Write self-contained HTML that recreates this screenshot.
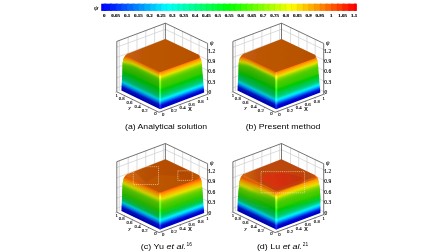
<!DOCTYPE html><html><head><meta charset="utf-8"><title>figure</title><style>html,body{margin:0;padding:0;background:#fff;overflow:hidden}svg{display:block}</style></head><body><svg width="448" height="252" viewBox="0 0 448 252">
<defs>
<linearGradient id="gl" gradientUnits="userSpaceOnUse" x1="160.1" y1="72" x2="145.63" y2="102.28"><stop offset="0.000" stop-color="#e85400"/><stop offset="0.025" stop-color="#e77000"/><stop offset="0.050" stop-color="#e48a00"/><stop offset="0.075" stop-color="#dea200"/><stop offset="0.100" stop-color="#d8b800"/><stop offset="0.125" stop-color="#d1cc00"/><stop offset="0.150" stop-color="#a9ca00"/><stop offset="0.175" stop-color="#7dc300"/><stop offset="0.200" stop-color="#53be00"/><stop offset="0.225" stop-color="#4bba00"/><stop offset="0.250" stop-color="#44b600"/><stop offset="0.275" stop-color="#3db400"/><stop offset="0.300" stop-color="#37b200"/><stop offset="0.325" stop-color="#31b100"/><stop offset="0.350" stop-color="#2bb100"/><stop offset="0.375" stop-color="#26b000"/><stop offset="0.400" stop-color="#20b000"/><stop offset="0.425" stop-color="#14b000"/><stop offset="0.450" stop-color="#07b000"/><stop offset="0.475" stop-color="#00b005"/><stop offset="0.500" stop-color="#00b011"/><stop offset="0.525" stop-color="#00b01e"/><stop offset="0.550" stop-color="#00b02b"/><stop offset="0.575" stop-color="#00b038"/><stop offset="0.600" stop-color="#00b046"/><stop offset="0.625" stop-color="#00b053"/><stop offset="0.650" stop-color="#00b163"/><stop offset="0.675" stop-color="#00b474"/><stop offset="0.700" stop-color="#00ba88"/><stop offset="0.725" stop-color="#00c4ab"/><stop offset="0.750" stop-color="#00c6d1"/><stop offset="0.775" stop-color="#00aadd"/><stop offset="0.800" stop-color="#008fe1"/><stop offset="0.825" stop-color="#006edd"/><stop offset="0.850" stop-color="#004cd1"/><stop offset="0.875" stop-color="#0024c4"/><stop offset="0.900" stop-color="#000cba"/><stop offset="0.925" stop-color="#0009b4"/><stop offset="0.950" stop-color="#0006b1"/><stop offset="0.975" stop-color="#0003b0"/><stop offset="1.000" stop-color="#0000b0"/></linearGradient>
<linearGradient id="gr" gradientUnits="userSpaceOnUse" x1="160.1" y1="71.5" x2="172.1" y2="104.87"><stop offset="0.000" stop-color="#ff6100"/><stop offset="0.025" stop-color="#ff7b00"/><stop offset="0.050" stop-color="#ff9300"/><stop offset="0.075" stop-color="#ffa900"/><stop offset="0.100" stop-color="#f7bd00"/><stop offset="0.125" stop-color="#efcf00"/><stop offset="0.150" stop-color="#e7e000"/><stop offset="0.175" stop-color="#c8e000"/><stop offset="0.200" stop-color="#a1da00"/><stop offset="0.225" stop-color="#80d500"/><stop offset="0.250" stop-color="#6ed100"/><stop offset="0.275" stop-color="#5cce00"/><stop offset="0.300" stop-color="#50cc00"/><stop offset="0.325" stop-color="#4acb00"/><stop offset="0.350" stop-color="#45ca00"/><stop offset="0.375" stop-color="#40ca00"/><stop offset="0.400" stop-color="#3bca00"/><stop offset="0.425" stop-color="#36ca00"/><stop offset="0.450" stop-color="#2bca00"/><stop offset="0.475" stop-color="#17c900"/><stop offset="0.500" stop-color="#02c900"/><stop offset="0.525" stop-color="#00c912"/><stop offset="0.550" stop-color="#00c923"/><stop offset="0.575" stop-color="#00c934"/><stop offset="0.600" stop-color="#00ca45"/><stop offset="0.625" stop-color="#00ca55"/><stop offset="0.650" stop-color="#00cb68"/><stop offset="0.675" stop-color="#00ce7e"/><stop offset="0.700" stop-color="#00d596"/><stop offset="0.725" stop-color="#00e1b9"/><stop offset="0.750" stop-color="#00f0e8"/><stop offset="0.775" stop-color="#00e0fd"/><stop offset="0.800" stop-color="#00beff"/><stop offset="0.825" stop-color="#0092fd"/><stop offset="0.850" stop-color="#0064f0"/><stop offset="0.875" stop-color="#003ae1"/><stop offset="0.900" stop-color="#0015d5"/><stop offset="0.925" stop-color="#0006ce"/><stop offset="0.950" stop-color="#0004cb"/><stop offset="0.975" stop-color="#0002ca"/><stop offset="1.000" stop-color="#0000ca"/></linearGradient>
<linearGradient id="ge" gradientUnits="userSpaceOnUse" x1="160.1" y1="72" x2="160.1" y2="109.2"><stop offset="0.000" stop-color="#ff7c1f"/><stop offset="0.025" stop-color="#ff981f"/><stop offset="0.050" stop-color="#ffb41f"/><stop offset="0.075" stop-color="#ffd01f"/><stop offset="0.100" stop-color="#ffec1f"/><stop offset="0.125" stop-color="#ffff1f"/><stop offset="0.150" stop-color="#ffff1f"/><stop offset="0.175" stop-color="#ecff1f"/><stop offset="0.200" stop-color="#c3ff1f"/><stop offset="0.225" stop-color="#a4ff1f"/><stop offset="0.250" stop-color="#94ff1f"/><stop offset="0.275" stop-color="#85ff1f"/><stop offset="0.300" stop-color="#79ff1f"/><stop offset="0.325" stop-color="#72ff1f"/><stop offset="0.350" stop-color="#6bff1f"/><stop offset="0.375" stop-color="#63ff1f"/><stop offset="0.400" stop-color="#5cff1f"/><stop offset="0.425" stop-color="#52ff1f"/><stop offset="0.450" stop-color="#3dff1f"/><stop offset="0.475" stop-color="#28ff1f"/><stop offset="0.500" stop-color="#1fff2b"/><stop offset="0.525" stop-color="#1fff40"/><stop offset="0.550" stop-color="#1fff55"/><stop offset="0.575" stop-color="#1fff6a"/><stop offset="0.600" stop-color="#1fff7f"/><stop offset="0.625" stop-color="#1fff93"/><stop offset="0.650" stop-color="#1fffaa"/><stop offset="0.675" stop-color="#1fffc1"/><stop offset="0.700" stop-color="#1fffd8"/><stop offset="0.725" stop-color="#1ffffa"/><stop offset="0.750" stop-color="#1fffff"/><stop offset="0.775" stop-color="#1ff3ff"/><stop offset="0.800" stop-color="#1fcdff"/><stop offset="0.825" stop-color="#1fa7ff"/><stop offset="0.850" stop-color="#1f82ff"/><stop offset="0.875" stop-color="#1f58ff"/><stop offset="0.900" stop-color="#1f2dff"/><stop offset="0.925" stop-color="#1f29ff"/><stop offset="0.950" stop-color="#1f26ff"/><stop offset="0.975" stop-color="#1f22ff"/><stop offset="1.000" stop-color="#1f1fff"/></linearGradient>
<linearGradient id="gt" gradientUnits="userSpaceOnUse" x1="123" y1="56" x2="203" y2="56"><stop offset="0" stop-color="#c86010"/><stop offset="0.25" stop-color="#bc5605"/><stop offset="1" stop-color="#b65002"/></linearGradient>
<linearGradient id="gtc" gradientUnits="userSpaceOnUse" x1="123" y1="56" x2="203" y2="56"><stop offset="0" stop-color="#dc7618"/><stop offset="0.12" stop-color="#cc620e"/><stop offset="0.3" stop-color="#be5606"/><stop offset="0.85" stop-color="#b85003"/><stop offset="1" stop-color="#c65c0a"/></linearGradient>
<linearGradient id="gtd" gradientUnits="userSpaceOnUse" x1="123" y1="56" x2="203" y2="56"><stop offset="0" stop-color="#dc7618"/><stop offset="0.1" stop-color="#cc5e0c"/><stop offset="0.25" stop-color="#be4807"/><stop offset="0.85" stop-color="#ba4607"/><stop offset="1" stop-color="#c85a0b"/></linearGradient>
<linearGradient id="gin" gradientUnits="userSpaceOnUse" x1="150" y1="64" x2="184" y2="52"><stop offset="0" stop-color="#da320a"/><stop offset="0.5" stop-color="#d22e08"/><stop offset="1" stop-color="#bc3606"/></linearGradient>
<linearGradient id="gcl" gradientUnits="userSpaceOnUse" x1="122" y1="60" x2="146" y2="60"><stop offset="0" stop-color="#d85c10"/><stop offset="0.25" stop-color="#d85c10" stop-opacity="0.9"/><stop offset="1" stop-color="#d85c10" stop-opacity="0"/></linearGradient>
<linearGradient id="gcls" gradientUnits="userSpaceOnUse" x1="122" y1="60" x2="137" y2="60"><stop offset="0" stop-color="#d85c10"/><stop offset="0.3" stop-color="#d85c10" stop-opacity="0.8"/><stop offset="1" stop-color="#d85c10" stop-opacity="0"/></linearGradient>
<linearGradient id="gcr" gradientUnits="userSpaceOnUse" x1="203" y1="60" x2="182" y2="60"><stop offset="0" stop-color="#e0640c"/><stop offset="0.25" stop-color="#e0640c" stop-opacity="0.9"/><stop offset="1" stop-color="#e0640c" stop-opacity="0"/></linearGradient>
<linearGradient id="gld" gradientUnits="userSpaceOnUse" x1="133.3" y1="60.2" x2="124.33" y2="82.61"><stop offset="0.000" stop-color="#e85400" stop-opacity="1.00"/><stop offset="0.038" stop-color="#e86700" stop-opacity="1.00"/><stop offset="0.077" stop-color="#e67900" stop-opacity="1.00"/><stop offset="0.115" stop-color="#e48a00" stop-opacity="1.00"/><stop offset="0.154" stop-color="#e09a00" stop-opacity="1.00"/><stop offset="0.192" stop-color="#dcaa00" stop-opacity="1.00"/><stop offset="0.231" stop-color="#d8b800" stop-opacity="1.00"/><stop offset="0.269" stop-color="#d3c500" stop-opacity="1.00"/><stop offset="0.308" stop-color="#cacf00" stop-opacity="1.00"/><stop offset="0.346" stop-color="#abca00" stop-opacity="1.00"/><stop offset="0.385" stop-color="#8dc600" stop-opacity="1.00"/><stop offset="0.423" stop-color="#70c200" stop-opacity="1.00"/><stop offset="0.462" stop-color="#55be00" stop-opacity="1.00"/><stop offset="0.500" stop-color="#4ebb00" stop-opacity="1.00"/><stop offset="0.538" stop-color="#49b900" stop-opacity="1.00"/><stop offset="0.577" stop-color="#44b700" stop-opacity="0.94"/><stop offset="0.615" stop-color="#40b500" stop-opacity="0.85"/><stop offset="0.654" stop-color="#3cb400" stop-opacity="0.77"/><stop offset="0.692" stop-color="#38b300" stop-opacity="0.68"/><stop offset="0.731" stop-color="#34b200" stop-opacity="0.60"/><stop offset="0.769" stop-color="#30b100" stop-opacity="0.51"/><stop offset="0.808" stop-color="#2cb100" stop-opacity="0.43"/><stop offset="0.846" stop-color="#28b100" stop-opacity="0.34"/><stop offset="0.885" stop-color="#24b000" stop-opacity="0.26"/><stop offset="0.923" stop-color="#20b000" stop-opacity="0.17"/><stop offset="0.962" stop-color="#19b000" stop-opacity="0.09"/><stop offset="1.000" stop-color="#11b000" stop-opacity="0.00"/></linearGradient>
<linearGradient id="grd" gradientUnits="userSpaceOnUse" x1="194.7" y1="58.6" x2="201.85" y2="82.45"><stop offset="0.000" stop-color="#ff6100" stop-opacity="1.00"/><stop offset="0.038" stop-color="#ff7700" stop-opacity="1.00"/><stop offset="0.077" stop-color="#ff8c00" stop-opacity="1.00"/><stop offset="0.115" stop-color="#ff9f00" stop-opacity="1.00"/><stop offset="0.154" stop-color="#fcb100" stop-opacity="1.00"/><stop offset="0.192" stop-color="#f5c100" stop-opacity="1.00"/><stop offset="0.231" stop-color="#eed000" stop-opacity="1.00"/><stop offset="0.269" stop-color="#e8de00" stop-opacity="1.00"/><stop offset="0.308" stop-color="#d2e100" stop-opacity="1.00"/><stop offset="0.346" stop-color="#b1dc00" stop-opacity="1.00"/><stop offset="0.385" stop-color="#91d700" stop-opacity="1.00"/><stop offset="0.423" stop-color="#7bd300" stop-opacity="1.00"/><stop offset="0.462" stop-color="#6bd000" stop-opacity="1.00"/><stop offset="0.500" stop-color="#5cce00" stop-opacity="1.00"/><stop offset="0.538" stop-color="#51cd00" stop-opacity="1.00"/><stop offset="0.577" stop-color="#4ccb00" stop-opacity="0.94"/><stop offset="0.615" stop-color="#48cb00" stop-opacity="0.85"/><stop offset="0.654" stop-color="#43ca00" stop-opacity="0.77"/><stop offset="0.692" stop-color="#3fca00" stop-opacity="0.68"/><stop offset="0.731" stop-color="#3bca00" stop-opacity="0.60"/><stop offset="0.769" stop-color="#37ca00" stop-opacity="0.51"/><stop offset="0.808" stop-color="#31ca00" stop-opacity="0.43"/><stop offset="0.846" stop-color="#1fc900" stop-opacity="0.34"/><stop offset="0.885" stop-color="#0ec900" stop-opacity="0.26"/><stop offset="0.923" stop-color="#00c903" stop-opacity="0.17"/><stop offset="0.962" stop-color="#00c914" stop-opacity="0.09"/><stop offset="1.000" stop-color="#00c923" stop-opacity="0.00"/></linearGradient>
<linearGradient id="glc" gradientUnits="userSpaceOnUse" x1="147.9" y1="66.6" x2="137.58" y2="90.06"><stop offset="0.000" stop-color="#e85400" stop-opacity="1.00"/><stop offset="0.038" stop-color="#e86a00" stop-opacity="1.00"/><stop offset="0.077" stop-color="#e57f00" stop-opacity="1.00"/><stop offset="0.115" stop-color="#e29300" stop-opacity="1.00"/><stop offset="0.154" stop-color="#dea500" stop-opacity="1.00"/><stop offset="0.192" stop-color="#d9b600" stop-opacity="1.00"/><stop offset="0.231" stop-color="#d3c500" stop-opacity="1.00"/><stop offset="0.269" stop-color="#c4ce00" stop-opacity="1.00"/><stop offset="0.308" stop-color="#a0c800" stop-opacity="1.00"/><stop offset="0.346" stop-color="#7dc400" stop-opacity="1.00"/><stop offset="0.385" stop-color="#5dbf00" stop-opacity="1.00"/><stop offset="0.423" stop-color="#4fbc00" stop-opacity="1.00"/><stop offset="0.462" stop-color="#49b900" stop-opacity="1.00"/><stop offset="0.500" stop-color="#43b600" stop-opacity="1.00"/><stop offset="0.538" stop-color="#3eb400" stop-opacity="1.00"/><stop offset="0.577" stop-color="#39b300" stop-opacity="0.94"/><stop offset="0.615" stop-color="#35b200" stop-opacity="0.85"/><stop offset="0.654" stop-color="#30b100" stop-opacity="0.77"/><stop offset="0.692" stop-color="#2cb100" stop-opacity="0.68"/><stop offset="0.731" stop-color="#27b000" stop-opacity="0.60"/><stop offset="0.769" stop-color="#23b000" stop-opacity="0.51"/><stop offset="0.808" stop-color="#1cb000" stop-opacity="0.43"/><stop offset="0.846" stop-color="#13b000" stop-opacity="0.34"/><stop offset="0.885" stop-color="#09b000" stop-opacity="0.26"/><stop offset="0.923" stop-color="#00b000" stop-opacity="0.17"/><stop offset="0.962" stop-color="#00b00a" stop-opacity="0.09"/><stop offset="1.000" stop-color="#00b013" stop-opacity="0.00"/></linearGradient>
<linearGradient id="grc" gradientUnits="userSpaceOnUse" x1="182.9" y1="64.5" x2="190.64" y2="87.95"><stop offset="0.000" stop-color="#ff6100" stop-opacity="1.00"/><stop offset="0.038" stop-color="#ff7700" stop-opacity="1.00"/><stop offset="0.077" stop-color="#ff8d00" stop-opacity="1.00"/><stop offset="0.115" stop-color="#ffa100" stop-opacity="1.00"/><stop offset="0.154" stop-color="#fbb300" stop-opacity="1.00"/><stop offset="0.192" stop-color="#f4c300" stop-opacity="1.00"/><stop offset="0.231" stop-color="#edd200" stop-opacity="1.00"/><stop offset="0.269" stop-color="#e7e000" stop-opacity="1.00"/><stop offset="0.308" stop-color="#cce000" stop-opacity="1.00"/><stop offset="0.346" stop-color="#aadb00" stop-opacity="1.00"/><stop offset="0.385" stop-color="#89d600" stop-opacity="1.00"/><stop offset="0.423" stop-color="#76d300" stop-opacity="1.00"/><stop offset="0.462" stop-color="#67d000" stop-opacity="1.00"/><stop offset="0.500" stop-color="#58ce00" stop-opacity="1.00"/><stop offset="0.538" stop-color="#4fcc00" stop-opacity="1.00"/><stop offset="0.577" stop-color="#4acb00" stop-opacity="0.94"/><stop offset="0.615" stop-color="#46ca00" stop-opacity="0.85"/><stop offset="0.654" stop-color="#42ca00" stop-opacity="0.77"/><stop offset="0.692" stop-color="#3dca00" stop-opacity="0.68"/><stop offset="0.731" stop-color="#39ca00" stop-opacity="0.60"/><stop offset="0.769" stop-color="#35ca00" stop-opacity="0.51"/><stop offset="0.808" stop-color="#28ca00" stop-opacity="0.43"/><stop offset="0.846" stop-color="#16c900" stop-opacity="0.34"/><stop offset="0.885" stop-color="#05c900" stop-opacity="0.26"/><stop offset="0.923" stop-color="#00c90d" stop-opacity="0.17"/><stop offset="0.962" stop-color="#00c91d" stop-opacity="0.09"/><stop offset="1.000" stop-color="#00c92b" stop-opacity="0.00"/></linearGradient>
<linearGradient id="gla" gradientUnits="userSpaceOnUse" x1="122.7" y1="55.6" x2="117.2" y2="73.95"><stop offset="0.000" stop-color="#e85400" stop-opacity="1.00"/><stop offset="0.038" stop-color="#e86800" stop-opacity="1.00"/><stop offset="0.077" stop-color="#e67b00" stop-opacity="1.00"/><stop offset="0.115" stop-color="#e38c00" stop-opacity="1.00"/><stop offset="0.154" stop-color="#e09d00" stop-opacity="1.00"/><stop offset="0.192" stop-color="#dbad00" stop-opacity="1.00"/><stop offset="0.231" stop-color="#d7bb00" stop-opacity="1.00"/><stop offset="0.269" stop-color="#d2c900" stop-opacity="1.00"/><stop offset="0.308" stop-color="#bfcd00" stop-opacity="1.00"/><stop offset="0.346" stop-color="#9ec800" stop-opacity="1.00"/><stop offset="0.385" stop-color="#80c400" stop-opacity="1.00"/><stop offset="0.423" stop-color="#62c000" stop-opacity="1.00"/><stop offset="0.462" stop-color="#50bd00" stop-opacity="1.00"/><stop offset="0.500" stop-color="#4bba00" stop-opacity="1.00"/><stop offset="0.538" stop-color="#46b700" stop-opacity="1.00"/><stop offset="0.577" stop-color="#41b500" stop-opacity="0.94"/><stop offset="0.615" stop-color="#3db400" stop-opacity="0.85"/><stop offset="0.654" stop-color="#38b300" stop-opacity="0.77"/><stop offset="0.692" stop-color="#34b200" stop-opacity="0.68"/><stop offset="0.731" stop-color="#30b100" stop-opacity="0.60"/><stop offset="0.769" stop-color="#2cb100" stop-opacity="0.51"/><stop offset="0.808" stop-color="#28b100" stop-opacity="0.43"/><stop offset="0.846" stop-color="#24b000" stop-opacity="0.34"/><stop offset="0.885" stop-color="#20b000" stop-opacity="0.26"/><stop offset="0.923" stop-color="#18b000" stop-opacity="0.17"/><stop offset="0.962" stop-color="#10b000" stop-opacity="0.09"/><stop offset="1.000" stop-color="#07b000" stop-opacity="0.00"/></linearGradient>
<linearGradient id="mga" gradientUnits="userSpaceOnUse" x1="124.5" y1="0" x2="138" y2="0"><stop offset="0" stop-color="#fff"/><stop offset="1" stop-color="#000"/></linearGradient>
<mask id="mka" maskUnits="userSpaceOnUse" x="100" y="30" width="130" height="100"><rect x="100" y="30" width="130" height="100" fill="url(#mga)"/></mask>
<linearGradient id="mgl" gradientUnits="userSpaceOnUse" x1="134" y1="0" x2="158" y2="0"><stop offset="0" stop-color="#fff"/><stop offset="1" stop-color="#000"/></linearGradient>
<linearGradient id="mgr" gradientUnits="userSpaceOnUse" x1="192" y1="0" x2="163" y2="0"><stop offset="0" stop-color="#fff"/><stop offset="1" stop-color="#000"/></linearGradient>
<mask id="mkl" maskUnits="userSpaceOnUse" x="100" y="30" width="130" height="100"><rect x="100" y="30" width="130" height="100" fill="url(#mgl)"/></mask>
<mask id="mkr" maskUnits="userSpaceOnUse" x="100" y="30" width="130" height="100"><rect x="100" y="30" width="130" height="100" fill="url(#mgr)"/></mask>
<filter id="b" x="-5%" y="-5%" width="110%" height="110%"><feGaussianBlur stdDeviation="0.35"/></filter>
</defs>
<rect width="448" height="252" fill="#fff"/>
<g filter="url(#b)">
<rect x="101.20" y="3.7" width="5.10" height="7.2" fill="#0000ff"/>
<rect x="104.30" y="3.7" width="7.67" height="7.2" fill="#000cff"/>
<rect x="109.97" y="3.7" width="7.67" height="7.2" fill="#0023ff"/>
<rect x="115.65" y="3.7" width="7.67" height="7.2" fill="#003aff"/>
<rect x="121.32" y="3.7" width="7.68" height="7.2" fill="#0051ff"/>
<rect x="127.00" y="3.7" width="7.68" height="7.2" fill="#0068ff"/>
<rect x="132.68" y="3.7" width="7.67" height="7.2" fill="#0080ff"/>
<rect x="138.35" y="3.7" width="7.68" height="7.2" fill="#0097ff"/>
<rect x="144.03" y="3.7" width="7.67" height="7.2" fill="#00aeff"/>
<rect x="149.70" y="3.7" width="7.68" height="7.2" fill="#00c5ff"/>
<rect x="155.38" y="3.7" width="7.68" height="7.2" fill="#00dcff"/>
<rect x="161.05" y="3.7" width="7.67" height="7.2" fill="#00f3ff"/>
<rect x="166.72" y="3.7" width="7.67" height="7.2" fill="#00fff3"/>
<rect x="172.40" y="3.7" width="7.68" height="7.2" fill="#00ffdc"/>
<rect x="178.07" y="3.7" width="7.68" height="7.2" fill="#00ffc5"/>
<rect x="183.75" y="3.7" width="7.68" height="7.2" fill="#00ffae"/>
<rect x="189.43" y="3.7" width="7.67" height="7.2" fill="#00ff97"/>
<rect x="195.10" y="3.7" width="7.67" height="7.2" fill="#00ff80"/>
<rect x="200.77" y="3.7" width="7.68" height="7.2" fill="#00ff68"/>
<rect x="206.45" y="3.7" width="7.68" height="7.2" fill="#00ff51"/>
<rect x="212.12" y="3.7" width="7.68" height="7.2" fill="#00ff3a"/>
<rect x="217.80" y="3.7" width="7.67" height="7.2" fill="#00ff23"/>
<rect x="223.47" y="3.7" width="7.67" height="7.2" fill="#00ff0c"/>
<rect x="229.15" y="3.7" width="7.68" height="7.2" fill="#0cff00"/>
<rect x="234.82" y="3.7" width="7.68" height="7.2" fill="#23ff00"/>
<rect x="240.50" y="3.7" width="7.68" height="7.2" fill="#3aff00"/>
<rect x="246.18" y="3.7" width="7.67" height="7.2" fill="#51ff00"/>
<rect x="251.85" y="3.7" width="7.68" height="7.2" fill="#68ff00"/>
<rect x="257.52" y="3.7" width="7.68" height="7.2" fill="#80ff00"/>
<rect x="263.20" y="3.7" width="7.68" height="7.2" fill="#97ff00"/>
<rect x="268.88" y="3.7" width="7.68" height="7.2" fill="#aeff00"/>
<rect x="274.55" y="3.7" width="7.67" height="7.2" fill="#c5ff00"/>
<rect x="280.22" y="3.7" width="7.68" height="7.2" fill="#dcff00"/>
<rect x="285.90" y="3.7" width="7.68" height="7.2" fill="#f3ff00"/>
<rect x="291.57" y="3.7" width="7.68" height="7.2" fill="#fff300"/>
<rect x="297.25" y="3.7" width="7.68" height="7.2" fill="#ffdc00"/>
<rect x="302.93" y="3.7" width="7.67" height="7.2" fill="#ffc500"/>
<rect x="308.60" y="3.7" width="7.68" height="7.2" fill="#ffae00"/>
<rect x="314.27" y="3.7" width="7.68" height="7.2" fill="#ff9700"/>
<rect x="319.95" y="3.7" width="7.68" height="7.2" fill="#ff8000"/>
<rect x="325.62" y="3.7" width="7.68" height="7.2" fill="#ff6800"/>
<rect x="331.30" y="3.7" width="7.67" height="7.2" fill="#ff5100"/>
<rect x="336.97" y="3.7" width="7.68" height="7.2" fill="#ff3a00"/>
<rect x="342.65" y="3.7" width="7.68" height="7.2" fill="#ff2300"/>
<rect x="348.32" y="3.7" width="7.68" height="7.2" fill="#ff0c00"/>
<rect x="354.00" y="3.7" width="2.90" height="7.2" fill="#ff0000"/>
<line x1="104.30" y1="3.7" x2="104.30" y2="10.9" stroke="#000" stroke-opacity="0.12" stroke-width="0.4"/>
<line x1="109.97" y1="3.7" x2="109.97" y2="10.9" stroke="#000" stroke-opacity="0.12" stroke-width="0.4"/>
<line x1="115.65" y1="3.7" x2="115.65" y2="10.9" stroke="#000" stroke-opacity="0.12" stroke-width="0.4"/>
<line x1="121.32" y1="3.7" x2="121.32" y2="10.9" stroke="#000" stroke-opacity="0.12" stroke-width="0.4"/>
<line x1="127.00" y1="3.7" x2="127.00" y2="10.9" stroke="#000" stroke-opacity="0.12" stroke-width="0.4"/>
<line x1="132.68" y1="3.7" x2="132.68" y2="10.9" stroke="#000" stroke-opacity="0.12" stroke-width="0.4"/>
<line x1="138.35" y1="3.7" x2="138.35" y2="10.9" stroke="#000" stroke-opacity="0.12" stroke-width="0.4"/>
<line x1="144.03" y1="3.7" x2="144.03" y2="10.9" stroke="#000" stroke-opacity="0.12" stroke-width="0.4"/>
<line x1="149.70" y1="3.7" x2="149.70" y2="10.9" stroke="#000" stroke-opacity="0.12" stroke-width="0.4"/>
<line x1="155.38" y1="3.7" x2="155.38" y2="10.9" stroke="#000" stroke-opacity="0.12" stroke-width="0.4"/>
<line x1="161.05" y1="3.7" x2="161.05" y2="10.9" stroke="#000" stroke-opacity="0.12" stroke-width="0.4"/>
<line x1="166.72" y1="3.7" x2="166.72" y2="10.9" stroke="#000" stroke-opacity="0.12" stroke-width="0.4"/>
<line x1="172.40" y1="3.7" x2="172.40" y2="10.9" stroke="#000" stroke-opacity="0.12" stroke-width="0.4"/>
<line x1="178.07" y1="3.7" x2="178.07" y2="10.9" stroke="#000" stroke-opacity="0.12" stroke-width="0.4"/>
<line x1="183.75" y1="3.7" x2="183.75" y2="10.9" stroke="#000" stroke-opacity="0.12" stroke-width="0.4"/>
<line x1="189.43" y1="3.7" x2="189.43" y2="10.9" stroke="#000" stroke-opacity="0.12" stroke-width="0.4"/>
<line x1="195.10" y1="3.7" x2="195.10" y2="10.9" stroke="#000" stroke-opacity="0.12" stroke-width="0.4"/>
<line x1="200.77" y1="3.7" x2="200.77" y2="10.9" stroke="#000" stroke-opacity="0.12" stroke-width="0.4"/>
<line x1="206.45" y1="3.7" x2="206.45" y2="10.9" stroke="#000" stroke-opacity="0.12" stroke-width="0.4"/>
<line x1="212.12" y1="3.7" x2="212.12" y2="10.9" stroke="#000" stroke-opacity="0.12" stroke-width="0.4"/>
<line x1="217.80" y1="3.7" x2="217.80" y2="10.9" stroke="#000" stroke-opacity="0.12" stroke-width="0.4"/>
<line x1="223.47" y1="3.7" x2="223.47" y2="10.9" stroke="#000" stroke-opacity="0.12" stroke-width="0.4"/>
<line x1="229.15" y1="3.7" x2="229.15" y2="10.9" stroke="#000" stroke-opacity="0.12" stroke-width="0.4"/>
<line x1="234.82" y1="3.7" x2="234.82" y2="10.9" stroke="#000" stroke-opacity="0.12" stroke-width="0.4"/>
<line x1="240.50" y1="3.7" x2="240.50" y2="10.9" stroke="#000" stroke-opacity="0.12" stroke-width="0.4"/>
<line x1="246.18" y1="3.7" x2="246.18" y2="10.9" stroke="#000" stroke-opacity="0.12" stroke-width="0.4"/>
<line x1="251.85" y1="3.7" x2="251.85" y2="10.9" stroke="#000" stroke-opacity="0.12" stroke-width="0.4"/>
<line x1="257.52" y1="3.7" x2="257.52" y2="10.9" stroke="#000" stroke-opacity="0.12" stroke-width="0.4"/>
<line x1="263.20" y1="3.7" x2="263.20" y2="10.9" stroke="#000" stroke-opacity="0.12" stroke-width="0.4"/>
<line x1="268.88" y1="3.7" x2="268.88" y2="10.9" stroke="#000" stroke-opacity="0.12" stroke-width="0.4"/>
<line x1="274.55" y1="3.7" x2="274.55" y2="10.9" stroke="#000" stroke-opacity="0.12" stroke-width="0.4"/>
<line x1="280.22" y1="3.7" x2="280.22" y2="10.9" stroke="#000" stroke-opacity="0.12" stroke-width="0.4"/>
<line x1="285.90" y1="3.7" x2="285.90" y2="10.9" stroke="#000" stroke-opacity="0.12" stroke-width="0.4"/>
<line x1="291.57" y1="3.7" x2="291.57" y2="10.9" stroke="#000" stroke-opacity="0.12" stroke-width="0.4"/>
<line x1="297.25" y1="3.7" x2="297.25" y2="10.9" stroke="#000" stroke-opacity="0.12" stroke-width="0.4"/>
<line x1="302.93" y1="3.7" x2="302.93" y2="10.9" stroke="#000" stroke-opacity="0.12" stroke-width="0.4"/>
<line x1="308.60" y1="3.7" x2="308.60" y2="10.9" stroke="#000" stroke-opacity="0.12" stroke-width="0.4"/>
<line x1="314.27" y1="3.7" x2="314.27" y2="10.9" stroke="#000" stroke-opacity="0.12" stroke-width="0.4"/>
<line x1="319.95" y1="3.7" x2="319.95" y2="10.9" stroke="#000" stroke-opacity="0.12" stroke-width="0.4"/>
<line x1="325.62" y1="3.7" x2="325.62" y2="10.9" stroke="#000" stroke-opacity="0.12" stroke-width="0.4"/>
<line x1="331.30" y1="3.7" x2="331.30" y2="10.9" stroke="#000" stroke-opacity="0.12" stroke-width="0.4"/>
<line x1="336.97" y1="3.7" x2="336.97" y2="10.9" stroke="#000" stroke-opacity="0.12" stroke-width="0.4"/>
<line x1="342.65" y1="3.7" x2="342.65" y2="10.9" stroke="#000" stroke-opacity="0.12" stroke-width="0.4"/>
<line x1="348.32" y1="3.7" x2="348.32" y2="10.9" stroke="#000" stroke-opacity="0.12" stroke-width="0.4"/>
<line x1="354.00" y1="3.7" x2="354.00" y2="10.9" stroke="#000" stroke-opacity="0.12" stroke-width="0.4"/>
</g>
<g font-family="'Liberation Serif', serif" font-weight="bold" font-size="5" text-anchor="middle" fill="#000" stroke="#000" stroke-width="0.15" filter="url(#b)">
<text x="104.30" y="17.4">0</text>
<text x="115.65" y="17.4">0.05</text>
<text x="127.00" y="17.4">0.1</text>
<text x="138.35" y="17.4">0.15</text>
<text x="149.70" y="17.4">0.2</text>
<text x="161.05" y="17.4">0.25</text>
<text x="172.40" y="17.4">0.3</text>
<text x="183.75" y="17.4">0.35</text>
<text x="195.10" y="17.4">0.4</text>
<text x="206.45" y="17.4">0.45</text>
<text x="217.80" y="17.4">0.5</text>
<text x="229.15" y="17.4">0.55</text>
<text x="240.50" y="17.4">0.6</text>
<text x="251.85" y="17.4">0.65</text>
<text x="263.20" y="17.4">0.7</text>
<text x="274.55" y="17.4">0.75</text>
<text x="285.90" y="17.4">0.8</text>
<text x="297.25" y="17.4">0.85</text>
<text x="308.60" y="17.4">0.9</text>
<text x="319.95" y="17.4">0.95</text>
<text x="331.30" y="17.4">1</text>
<text x="342.65" y="17.4">1.05</text>
<text x="354.00" y="17.4">1.1</text>
</g>
<text x="96.3" y="9.8" font-family="'Liberation Serif', serif" font-style="italic" font-weight="bold" font-size="6.8" text-anchor="middle" fill="#111" filter="url(#b)">ψ</text>
<g transform="translate(0,0)"><g filter="url(#b)"><path d="M128.2 37.1V87.5 M137.0 33.8V84.2 M145.8 30.5V80.9 M154.6 27.2V77.6 M163.4 23.9V74.3 M174.4 27.5V77.9 M182.6 31.4V82.0 M190.9 35.4V86.1 M199.1 39.3V90.1 M116.8 47.2L165.4 29.3L207.6 49.5 M116.8 57.4L165.4 39.2L207.6 60.0 M116.8 67.6L165.4 49.1L207.6 70.5 M116.8 77.8L165.4 59.0L207.6 81.0 M116.8 88.0L165.4 68.9L207.6 91.5" fill="none" stroke="#cdcdcd" stroke-width="0.7"/><path d="M119.2 40.6V91" fill="none" stroke="#c4c4c4" stroke-width="0.7"/><path d="M116.8 91.8V41.4L165.4 23.2L207.6 43.4V94.3 M165.4 23.2V73.5 M116.8 91.8L159 112.3L207.6 94.3" fill="none" stroke="#505050" stroke-width="0.8" stroke-linejoin="round"/><path d="M161.2 111.5l1.2 0.6 M157.1 111.4l-1.2 0.55 M170.5 108.1l1.2 0.6 M149.0 107.5l-1.2 0.55 M179.8 104.6l1.2 0.6 M141.0 103.5l-1.2 0.55 M189.0 101.2l1.2 0.6 M132.9 99.6l-1.2 0.55 M198.3 97.7l1.2 0.6 M124.9 95.7l-1.2 0.55 M207.6 94.3l1.2 0.6 M116.8 91.8l-1.2 0.55 M207.6 91.6l1.3 0.6 M207.6 81.1l1.3 0.6 M207.6 70.7l1.3 0.6 M207.6 60.2l1.3 0.6 M207.6 49.8l1.3 0.6" fill="none" stroke="#444" stroke-width="0.5"/><path d="M122.7 63 Q122.7 56.8 128 53.4 L160.1 71 V109.2 L121.4 90.6 Z" fill="url(#gl)"/><path d="M160.1 71 L196.5 54.8 Q201.5 56.2 201.8 63 L204.2 92.6 L160.1 109.2 Z" fill="url(#gr)"/><path d="M122.7 63 Q122.7 56.8 128 53.4 L160.1 71 V109.2 L121.4 90.6 Z" fill="url(#gla)" mask="url(#mka)"/><path d="M160.2 72.4V109" stroke="url(#ge)" stroke-width="2" fill="none"/><path d="M165.4 39 L128.3 53.5 Q125.2 54.9 127 56.5 L160.1 72.1 L198.2 58.6 Q200.8 57 198.8 54.8 Z" fill="url(#gt)"/></g><g font-family="'Liberation Serif', serif" font-size="4.8" text-anchor="middle" fill="#000" stroke="#000" stroke-width="0.12" filter="url(#b)"><text x="116.75" y="96.5">1</text><text x="121.7" y="100.1">0.8</text><text x="129.4" y="103.9">0.6</text><text x="137.6" y="107.6">0.4</text><text x="144.7" y="111.6">0.2</text><text x="155.4" y="115.2">0</text><text x="163.3" y="115.5">0</text><text x="174" y="112.4">0.2</text><text x="182.6" y="109.3">0.4</text><text x="191.6" y="106.0">0.6</text><text x="200.7" y="102.7">0.8</text><text x="207.5" y="99.6">1</text><text x="209.8" y="94.4" font-size="5.5">0</text><text x="211.7" y="84.0" font-size="5.5">0.3</text><text x="211.7" y="73.4" font-size="5.5">0.6</text><text x="211.7" y="63.1" font-size="5.5">0.9</text><text x="211.7" y="53.0" font-size="5.5">1.2</text><text x="129.6" y="109.3" font-style="italic">y</text><text x="190" y="110.9" font-family="'Liberation Sans', sans-serif" font-size="5.2" stroke-width="0.2">X</text><text x="211.7" y="44.6" font-style="italic" font-size="5.6">ψ</text></g></g>
<g transform="translate(116.1,0)"><g filter="url(#b)"><path d="M128.2 37.1V87.5 M137.0 33.8V84.2 M145.8 30.5V80.9 M154.6 27.2V77.6 M163.4 23.9V74.3 M174.4 27.5V77.9 M182.6 31.4V82.0 M190.9 35.4V86.1 M199.1 39.3V90.1 M116.8 47.2L165.4 29.3L207.6 49.5 M116.8 57.4L165.4 39.2L207.6 60.0 M116.8 67.6L165.4 49.1L207.6 70.5 M116.8 77.8L165.4 59.0L207.6 81.0 M116.8 88.0L165.4 68.9L207.6 91.5" fill="none" stroke="#cdcdcd" stroke-width="0.7"/><path d="M119.2 40.6V91" fill="none" stroke="#c4c4c4" stroke-width="0.7"/><path d="M116.8 91.8V41.4L165.4 23.2L207.6 43.4V94.3 M165.4 23.2V73.5 M116.8 91.8L159 112.3L207.6 94.3" fill="none" stroke="#505050" stroke-width="0.8" stroke-linejoin="round"/><path d="M161.2 111.5l1.2 0.6 M157.1 111.4l-1.2 0.55 M170.5 108.1l1.2 0.6 M149.0 107.5l-1.2 0.55 M179.8 104.6l1.2 0.6 M141.0 103.5l-1.2 0.55 M189.0 101.2l1.2 0.6 M132.9 99.6l-1.2 0.55 M198.3 97.7l1.2 0.6 M124.9 95.7l-1.2 0.55 M207.6 94.3l1.2 0.6 M116.8 91.8l-1.2 0.55 M207.6 91.6l1.3 0.6 M207.6 81.1l1.3 0.6 M207.6 70.7l1.3 0.6 M207.6 60.2l1.3 0.6 M207.6 49.8l1.3 0.6" fill="none" stroke="#444" stroke-width="0.5"/><path d="M122.7 63 Q122.7 56.8 128 53.4 L160.1 71 V109.2 L121.4 90.6 Z" fill="url(#gl)"/><path d="M160.1 71 L196.5 54.8 Q201.5 56.2 201.8 63 L204.2 92.6 L160.1 109.2 Z" fill="url(#gr)"/><path d="M122.7 63 Q122.7 56.8 128 53.4 L160.1 71 V109.2 L121.4 90.6 Z" fill="url(#gla)" mask="url(#mka)"/><path d="M160.2 72.4V109" stroke="url(#ge)" stroke-width="2" fill="none"/><path d="M165.4 39 L128.3 53.5 Q125.2 54.9 127 56.5 L160.1 72.1 L198.2 58.6 Q200.8 57 198.8 54.8 Z" fill="url(#gt)"/></g><g font-family="'Liberation Serif', serif" font-size="4.8" text-anchor="middle" fill="#000" stroke="#000" stroke-width="0.12" filter="url(#b)"><text x="116.75" y="96.5">1</text><text x="121.7" y="100.1">0.8</text><text x="129.4" y="103.9">0.6</text><text x="137.6" y="107.6">0.4</text><text x="144.7" y="111.6">0.2</text><text x="155.4" y="115.2">0</text><text x="163.3" y="115.5">0</text><text x="174" y="112.4">0.2</text><text x="182.6" y="109.3">0.4</text><text x="191.6" y="106.0">0.6</text><text x="200.7" y="102.7">0.8</text><text x="207.5" y="99.6">1</text><text x="209.8" y="94.4" font-size="5.5">0</text><text x="211.7" y="84.0" font-size="5.5">0.3</text><text x="211.7" y="73.4" font-size="5.5">0.6</text><text x="211.7" y="63.1" font-size="5.5">0.9</text><text x="211.7" y="53.0" font-size="5.5">1.2</text><text x="129.6" y="109.3" font-style="italic">y</text><text x="190" y="110.9" font-family="'Liberation Sans', sans-serif" font-size="5.2" stroke-width="0.2">X</text><text x="211.7" y="44.6" font-style="italic" font-size="5.6">ψ</text></g></g>
<g transform="translate(0,120.3)"><g filter="url(#b)"><path d="M128.2 37.1V87.5 M137.0 33.8V84.2 M145.8 30.5V80.9 M154.6 27.2V77.6 M163.4 23.9V74.3 M174.4 27.5V77.9 M182.6 31.4V82.0 M190.9 35.4V86.1 M199.1 39.3V90.1 M116.8 47.2L165.4 29.3L207.6 49.5 M116.8 57.4L165.4 39.2L207.6 60.0 M116.8 67.6L165.4 49.1L207.6 70.5 M116.8 77.8L165.4 59.0L207.6 81.0 M116.8 88.0L165.4 68.9L207.6 91.5" fill="none" stroke="#cdcdcd" stroke-width="0.7"/><path d="M119.2 40.6V91" fill="none" stroke="#c4c4c4" stroke-width="0.7"/><path d="M116.8 91.8V41.4L165.4 23.2L207.6 43.4V94.3 M165.4 23.2V73.5 M116.8 91.8L159 112.3L207.6 94.3" fill="none" stroke="#505050" stroke-width="0.8" stroke-linejoin="round"/><path d="M161.2 111.5l1.2 0.6 M157.1 111.4l-1.2 0.55 M170.5 108.1l1.2 0.6 M149.0 107.5l-1.2 0.55 M179.8 104.6l1.2 0.6 M141.0 103.5l-1.2 0.55 M189.0 101.2l1.2 0.6 M132.9 99.6l-1.2 0.55 M198.3 97.7l1.2 0.6 M124.9 95.7l-1.2 0.55 M207.6 94.3l1.2 0.6 M116.8 91.8l-1.2 0.55 M207.6 91.6l1.3 0.6 M207.6 81.1l1.3 0.6 M207.6 70.7l1.3 0.6 M207.6 60.2l1.3 0.6 M207.6 49.8l1.3 0.6" fill="none" stroke="#444" stroke-width="0.5"/><path d="M122.7 63 Q122.7 56.8 128 53.4 L160.1 71 V109.2 L121.4 90.6 Z" fill="url(#gl)"/><path d="M160.1 71 L196.5 54.8 Q201.5 56.2 201.8 63 L204.2 92.6 L160.1 109.2 Z" fill="url(#gr)"/><path d="M122.7 63 Q122.7 56.8 128 53.4 L160.1 71 V109.2 L121.4 90.6 Z" fill="url(#glc)"/><path d="M160.1 71 L196.5 54.8 Q201.5 56.2 201.8 63 L204.2 92.6 L160.1 109.2 Z" fill="url(#grc)"/><path d="M160.2 72.4V109" stroke="url(#ge)" stroke-width="2" fill="none"/><path d="M165.4 39 L128.3 53.5 Q125.2 54.9 127 56.5 L160.1 72.1 L198.2 58.6 Q200.8 57 198.8 54.8 Z" fill="url(#gtc)"/><path d="M135 51.2 L165.4 39.8 L189 51.2 Q180 56 170 55.5 Q160 54 156.6 55.4 Q150 60 146 62.3 Q139 56 135 51.2 Z" fill="#a84000" opacity="0.3"/><path d="M179.2 52.2 L186 51.6 L191.4 54 L191.2 58.8 L180.5 59.2 Z" fill="#a83c00" opacity="0.28"/></g><g fill="none" stroke="#fdeedd" stroke-width="0.7" stroke-dasharray="1 0.9" opacity="0.8" filter="url(#b)"><rect x="133.25" y="46.4" width="25.25" height="17.8"/><rect x="177.8" y="50.5" width="14.5" height="9.6"/></g><g font-family="'Liberation Serif', serif" font-size="4.8" text-anchor="middle" fill="#000" stroke="#000" stroke-width="0.12" filter="url(#b)"><text x="116.75" y="96.5">1</text><text x="121.7" y="100.1">0.8</text><text x="129.4" y="103.9">0.6</text><text x="137.6" y="107.6">0.4</text><text x="144.7" y="111.6">0.2</text><text x="155.4" y="115.2">0</text><text x="163.3" y="115.5">0</text><text x="174" y="112.4">0.2</text><text x="182.6" y="109.3">0.4</text><text x="191.6" y="106.0">0.6</text><text x="200.7" y="102.7">0.8</text><text x="207.5" y="99.6">1</text><text x="209.8" y="94.4" font-size="5.5">0</text><text x="211.7" y="84.0" font-size="5.5">0.3</text><text x="211.7" y="73.4" font-size="5.5">0.6</text><text x="211.7" y="63.1" font-size="5.5">0.9</text><text x="211.7" y="53.0" font-size="5.5">1.2</text><text x="129.6" y="109.3" font-style="italic">y</text><text x="190" y="110.9" font-family="'Liberation Sans', sans-serif" font-size="5.2" stroke-width="0.2">X</text><text x="211.7" y="44.6" font-style="italic" font-size="5.6">ψ</text></g></g>
<g transform="translate(116.1,120.3)"><g filter="url(#b)"><path d="M128.2 37.1V87.5 M137.0 33.8V84.2 M145.8 30.5V80.9 M154.6 27.2V77.6 M163.4 23.9V74.3 M174.4 27.5V77.9 M182.6 31.4V82.0 M190.9 35.4V86.1 M199.1 39.3V90.1 M116.8 47.2L165.4 29.3L207.6 49.5 M116.8 57.4L165.4 39.2L207.6 60.0 M116.8 67.6L165.4 49.1L207.6 70.5 M116.8 77.8L165.4 59.0L207.6 81.0 M116.8 88.0L165.4 68.9L207.6 91.5" fill="none" stroke="#cdcdcd" stroke-width="0.7"/><path d="M119.2 40.6V91" fill="none" stroke="#c4c4c4" stroke-width="0.7"/><path d="M116.8 91.8V41.4L165.4 23.2L207.6 43.4V94.3 M165.4 23.2V73.5 M116.8 91.8L159 112.3L207.6 94.3" fill="none" stroke="#505050" stroke-width="0.8" stroke-linejoin="round"/><path d="M161.2 111.5l1.2 0.6 M157.1 111.4l-1.2 0.55 M170.5 108.1l1.2 0.6 M149.0 107.5l-1.2 0.55 M179.8 104.6l1.2 0.6 M141.0 103.5l-1.2 0.55 M189.0 101.2l1.2 0.6 M132.9 99.6l-1.2 0.55 M198.3 97.7l1.2 0.6 M124.9 95.7l-1.2 0.55 M207.6 94.3l1.2 0.6 M116.8 91.8l-1.2 0.55 M207.6 91.6l1.3 0.6 M207.6 81.1l1.3 0.6 M207.6 70.7l1.3 0.6 M207.6 60.2l1.3 0.6 M207.6 49.8l1.3 0.6" fill="none" stroke="#444" stroke-width="0.5"/><path d="M121.3 90.6 L121.6 80 Q122.6 70 123.3 62 Q124 56.4 127.5 53.4 L160.1 71 V109.2 Z" fill="url(#gl)"/><path d="M160.1 71 L196.5 54.8 Q201 56 202 58.6 Q203.7 65 204.4 79 L204.3 92.6 L160.1 109.2 Z" fill="url(#gr)"/><path d="M121.3 90.6 L121.6 80 Q122.6 70 123.3 62 Q124 56.4 127.5 53.4 L160.1 71 V109.2 Z" fill="url(#gld)" mask="url(#mkl)"/><path d="M160.1 71 L196.5 54.8 Q201 56 202 58.6 Q203.7 65 204.4 79 L204.3 92.6 L160.1 109.2 Z" fill="url(#grd)" mask="url(#mkr)"/><path d="M160.2 72.4V109" stroke="url(#ge)" stroke-width="2" fill="none"/><path d="M165.2 38.9 L128.3 53.5 Q125.2 54.9 127 56.5 L160.1 72.1 L198.2 58.6 Q200.8 57 198.8 54.8 Z" fill="url(#gtd)"/><path d="M127 55.6 L160.1 71.4 L198.5 57.8" fill="none" stroke="#d8700f" stroke-width="1.8" stroke-linejoin="round" opacity="0.8"/><path d="M143.4 57.3 Q146.5 52.4 156 51 Q166 49.8 177 51.6 Q187.8 53.6 190 58 Q188 62.5 179 65 L163.6 70 Q160.2 71 157 69.2 L146 61.6 Q143 59.4 143.4 57.3 Z" fill="#c63e07"/><path d="M146.6 57.3 Q149 54.6 156 53.6 Q166 52.4 176 54.2 Q184 55.6 186.6 58 Q185 60.5 178 62.6 L163 67.4 Q160.2 68.2 157.6 66.6 L148.2 59.8 Q146.2 58.4 146.6 57.3 Z" fill="url(#gin)"/></g><g fill="none" stroke="#fdeedd" stroke-width="0.7" stroke-dasharray="1 0.9" opacity="0.8" filter="url(#b)"><rect x="145" y="51.3" width="43.5" height="21.2"/></g><g font-family="'Liberation Serif', serif" font-size="4.8" text-anchor="middle" fill="#000" stroke="#000" stroke-width="0.12" filter="url(#b)"><text x="116.75" y="96.5">1</text><text x="121.7" y="100.1">0.8</text><text x="129.4" y="103.9">0.6</text><text x="137.6" y="107.6">0.4</text><text x="144.7" y="111.6">0.2</text><text x="155.4" y="115.2">0</text><text x="163.3" y="115.5">0</text><text x="174" y="112.4">0.2</text><text x="182.6" y="109.3">0.4</text><text x="191.6" y="106.0">0.6</text><text x="200.7" y="102.7">0.8</text><text x="207.5" y="99.6">1</text><text x="209.8" y="94.4" font-size="5.5">0</text><text x="211.7" y="84.0" font-size="5.5">0.3</text><text x="211.7" y="73.4" font-size="5.5">0.6</text><text x="211.7" y="63.1" font-size="5.5">0.9</text><text x="211.7" y="53.0" font-size="5.5">1.2</text><text x="129.6" y="109.3" font-style="italic">y</text><text x="190" y="110.9" font-family="'Liberation Sans', sans-serif" font-size="5.2" stroke-width="0.2">X</text><text x="211.7" y="44.6" font-style="italic" font-size="5.6">ψ</text></g></g>
<g font-family="'Liberation Sans', sans-serif" font-size="7.4" fill="#000" filter="url(#b)">
<text x="125" y="129" textLength="82.2" lengthAdjust="spacingAndGlyphs">(a) Analytical solution</text>
<text x="245.7" y="129" textLength="74.8" lengthAdjust="spacingAndGlyphs">(b) Present method</text>
<text x="140.7" y="249.2" textLength="45.3" lengthAdjust="spacingAndGlyphs">(c) Yu <tspan font-style="italic">et al.</tspan></text>
<text x="186.6" y="246.2" font-size="4.8" textLength="5.4" lengthAdjust="spacingAndGlyphs">16</text>
<text x="256.9" y="249.2" textLength="45.1" lengthAdjust="spacingAndGlyphs">(d) Lu <tspan font-style="italic">et al.</tspan></text>
<text x="302.8" y="246.2" font-size="4.8" textLength="5.4" lengthAdjust="spacingAndGlyphs">21</text>
</g>
</svg></body></html>
